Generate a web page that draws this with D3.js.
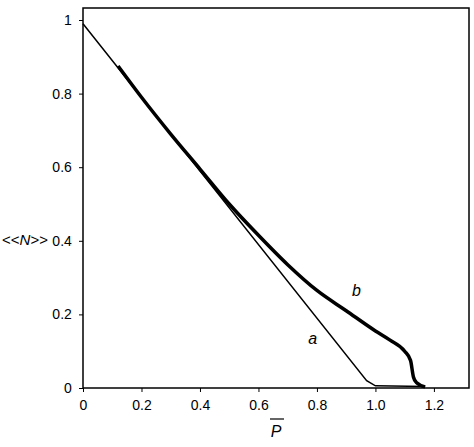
<!DOCTYPE html>
<html><head><meta charset="utf-8">
<script src="https://cdn.jsdelivr.net/npm/d3@7"></script>
<style>body{margin:0;background:#fff}text{font-family:Arial,"Liberation Sans",sans-serif}</style>
</head><body>
<script>
var xTicks = [0, 0.2, 0.4, 0.6, 0.8, 1.0, 1.2];
var xTickLabels = ["0", "0.2", "0.4", "0.6", "0.8", "1.0", "1.2"];
var yTicks = [0, 0.2, 0.4, 0.6, 0.8, 1];
var yTickLabels = ["0", "0.2", "0.4", "0.6", "0.8", "1"];
var curveA = [[0, 0.99], [0.97, 0.02], [1.0, 0.006], [1.17, 0.004]];
var curveB = [[0.12, 0.875], [0.2, 0.79], [0.3, 0.69], [0.4, 0.595], [0.5, 0.5], [0.6, 0.415], [0.7, 0.335],
  [0.8, 0.265], [0.9, 0.21], [1.0, 0.155], [1.05, 0.13], [1.1, 0.1], [1.12, 0.075], [1.13, 0.03],
  [1.14, 0.015], [1.17, 0.003]];

var svg = d3.select("body").append("svg").attr("width", 474).attr("height", 447);
var x = d3.scaleLinear().domain([0, 1.32]).range([83, 469]);
var y = d3.scaleLinear().domain([0, 1]).range([388, 20]);

svg.append("rect").attr("x", 83).attr("y", 8).attr("width", 386).attr("height", 380)
  .attr("fill", "none").attr("stroke", "#000").attr("stroke-width", 1.5);

svg.append("g").attr("transform", "translate(0,388)")
  .call(d3.axisBottom(x).tickValues(xTicks).tickSize(4).tickFormat(function (d, i) { return xTickLabels[i]; }))
  .call(function (g) { g.select(".domain").remove(); g.selectAll("text").attr("font-size", 14).attr("dy", "1.1em"); });
svg.append("g").attr("transform", "translate(83,0)")
  .call(d3.axisLeft(y).tickValues(yTicks).tickSize(4).tickFormat(function (d, i) { return yTickLabels[i]; }))
  .call(function (g) { g.select(".domain").remove(); g.selectAll("text").attr("font-size", 14).attr("dx", "-0.3em"); });

var line = d3.line().x(function (d) { return x(d[0]); }).y(function (d) { return y(d[1]); });
svg.append("path").datum(curveA).attr("d", line).attr("fill", "none").attr("stroke", "#000").attr("stroke-width", 1.5);
svg.append("path").datum(curveB).attr("d", line.curve(d3.curveMonotoneX)).attr("fill", "none").attr("stroke", "#000").attr("stroke-width", 3.5);

svg.append("text").attr("x", x(0.77)).attr("y", y(0.12)).attr("font-size", 16).attr("font-style", "italic").text("a");
svg.append("text").attr("x", x(0.92)).attr("y", y(0.25)).attr("font-size", 16).attr("font-style", "italic").text("b");

svg.append("text").attr("x", 2).attr("y", 245).attr("font-size", 15).html('&lt;&lt;<tspan font-style="italic">N</tspan>&gt;&gt;');
svg.append("text").attr("x", x(0.66)).attr("y", 437).attr("text-anchor", "middle").attr("font-size", 16).attr("font-style", "italic").text("P");
svg.append("line").attr("x1", x(0.66) - 6).attr("x2", x(0.66) + 8).attr("y1", 419).attr("y2", 419).attr("stroke", "#000").attr("stroke-width", 1.2);
</script>
</body></html>
